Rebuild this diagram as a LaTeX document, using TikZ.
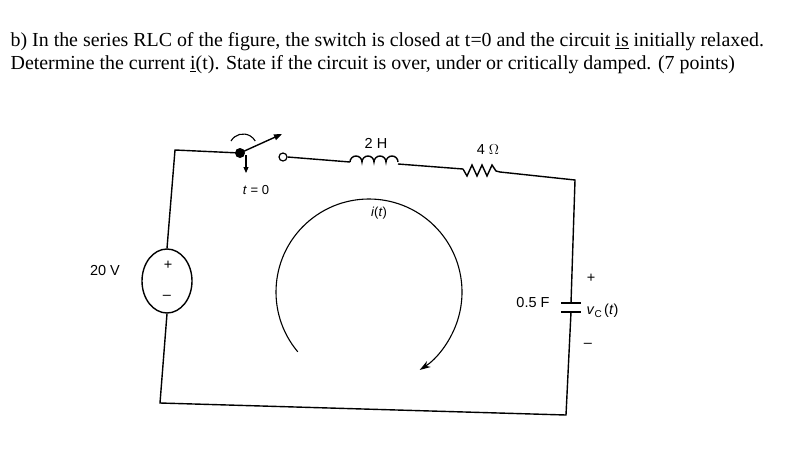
\documentclass[tikz,border=0pt]{standalone}
\usepackage{fontspec}
\setmainfont{Liberation Serif}
\newfontfamily\lab{Liberation Sans}
\usetikzlibrary{arrows.meta,shapes.geometric}
\begin{document}
\begin{tikzpicture}[x=1pt,y=-1pt,line width=1.3pt,
  lbl/.style={font=\lab\fontsize{14.5}{16}\selectfont,inner sep=0pt},
  wire/.style={line width=1.4pt}]
\useasboundingbox (0,0) rectangle (791,466);
\fill[white] (0,0) rectangle (791,466);
\node[anchor=west,inner sep=0pt,font=\fontsize{19.9}{23}\selectfont] (t1) at (10,42) {b) In the series RLC of the figure, the switch is closed at t=0 and the circuit \underline{is} initially relaxed.};
\node[anchor=west,inner sep=0pt,font=\fontsize{19.9}{23}\selectfont] (t2) at (10,65) {Determine the current \underline{i}(t). State if the circuit is over, under or critically damped. (7 points)};
% coordinates
\coordinate (tl) at (175,150);
\coordinate (piv) at (240,153);
\node[circle,draw,inner sep=0pt,minimum size=8pt,line width=1.2pt] (ct) at (283,157) {};
\coordinate (l1) at (350,162);
\coordinate (l2) at (398,164);
\coordinate (r1) at (463,169);
\coordinate (r2) at (500,172);
\coordinate (tr) at (575,180);
\coordinate (c1) at (571,303);
\coordinate (c2) at (571,312);
\coordinate (br) at (566,415);
\coordinate (bl) at (160,403);
\node[ellipse,draw,line width=1.4pt,minimum width=50pt,minimum height=64pt,inner sep=0pt] (src) at (167,281) {};
% wires
\draw[wire] (src.north) -- (tl) -- (piv);
\fill (piv) circle (5pt);
\draw[wire,-{Triangle[length=8pt,width=6pt]}] (piv) -- (282,134);
\draw[line width=1.1pt,-{Triangle[length=6pt,width=5pt]}] (246,155) -- (246,173);
\draw[line width=1.1pt] (231,141) arc (210:330:14);
\draw[wire] (ct.east) -- (l1);
\draw[wire] (l1) arc (180:360:6) arc (180:360:6) arc (180:360:6) arc (180:360:6);
\draw[wire] (l2) -- (r1);
\draw[wire] (r1) -- ++(4,7) -- ++(5,-11) -- ++(5,11) -- ++(5,-11) -- ++(5,11) -- ++(5,-11) -- ++(4,6) -- (r2);
\draw[wire] (r2) -- (tr) -- (c1);
\draw[wire] (561,303) -- (581,303);
\draw[wire] (561,312) -- (581,312);
\draw[wire] (c2) -- (br) -- (bl) -- (src.south);
% source signs
\node[lbl] (sp) at (168,265) {+};
\node[lbl] (sm) at (167,297) {\textendash};
% loop current
\draw[line width=1.1pt,-{Stealth[length=11pt,width=7pt]}] (369,292) ++(140:93) arc (140:417:93);
% labels
\node[lbl] (lh) at (376,143) {2 H};
\node[lbl] (lr) at (488,150) {4 $\Omega$};
\node[lbl,font=\lab\fontsize{13}{15}\selectfont] (lt) at (256,190) {\textit{t} = 0};
\node[lbl,font=\lab\fontsize{13}{15}\selectfont] (li) at (379,213) {\textit{i}(\textit{t})};
\node[lbl] (lv) at (105,271) {20 V};
\node[lbl] (lc) at (533,303) {0.5 F};
\node[lbl] (cp) at (591,278) {+};
\node[lbl] (cm) at (588,345) {\textendash};
\node[lbl,anchor=west] (lvc) at (586,311) {\textit{v}\raisebox{-3pt}{\fontsize{10}{12}\selectfont C}\,(\textit{t})};
\end{tikzpicture}
\end{document}
